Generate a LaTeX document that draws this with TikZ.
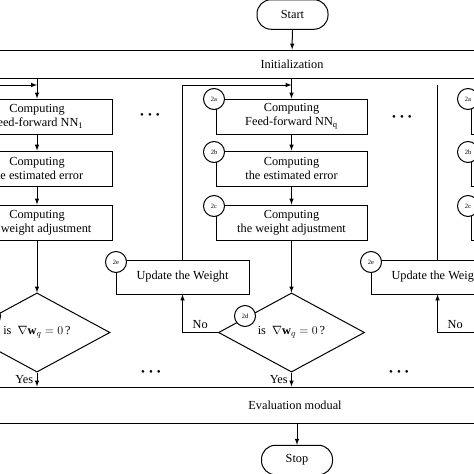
\documentclass[tikz,border=0pt]{standalone}
\usepackage{fontspec}
\setmainfont{Liberation Serif}
\usepackage{amsmath}
\usepackage{tikz}
\usetikzlibrary{shapes.geometric, arrows, positioning, calc}

\begin{document}
\begin{tikzpicture}[x=1pt, y=-1pt, >=latex, line width=1pt,
	every node/.style={font=\fontsize{12.3}{14}\selectfont},
	box/.style={draw, align=center, minimum width=151pt, minimum height=35pt, inner sep=2pt},
	upd/.style={draw, minimum width=133pt, minimum height=34pt},
	decide/.style={draw, diamond, minimum width=146pt, minimum height=56pt, inner sep=0pt},
	tag/.style={draw, circle, fill=white, minimum size=21pt, inner sep=0pt, font=\fontsize{6.5}{7}\selectfont},
	band/.style={draw, minimum width=800pt},
	term/.style={draw, rounded corners=14pt, minimum width=71pt, minimum height=29.5pt},
	dots/.style={font=\fontsize{11}{11}\selectfont}]
		\useasboundingbox (0,0) rectangle (474,474);
		\clip (0,0) rectangle (474,474);

		\draw (292.5,14.5) node[term] (start) {Start}
		(292,64) node[band, minimum height=28pt] (init) {Initialization}
		(295,405) node[band, minimum height=36pt] (eval) {Evaluation modual}
		(297,460) node[term] (stop) {Stop};

		% left column (partly outside)
		\draw (37,116.5) node[box] (l1) {Computing\\Feed-forward NN\textsubscript{1}}
		(37,168.5) node[box] (l2) {Computing\\the estimated error}
		(37,222.5) node[box] (l3) {Computing\\the weight adjustment}
		(37,332.5) node[decide] (ld) {is\ \ $\nabla\mathbf{w}_q = 0$\,?}
		(-10,316) node[tag] (l2d) {2d};
		\coordinate (lfb) at (-73,85);

		% middle column
		\draw (291.5,116.5) node[box] (m1) {Computing\\Feed-forward NN\textsubscript{q}}
		(291.5,168.5) node[box] (m2) {Computing\\the estimated error}
		(291.5,222.5) node[box] (m3) {Computing\\the weight adjustment}
		(291.5,332.5) node[decide] (md) {is\ \ $\nabla\mathbf{w}_q = 0$\,?}
		(182.5,277) node[upd] (mu) {Update the Weight};
		\draw (214,99) node[tag] (m2a) {2a}
		(214,152) node[tag] (m2b) {2b}
		(214,206) node[tag] (m2c) {2c}
		(245,316) node[tag] (m2d) {2d}
		(116,262) node[tag] (m2e) {2e};
		\coordinate (mfb) at (291.5,85);

		% right column (partly outside)
		\draw (546.5,116.5) node[box] (r1) {Computing\\Feed-forward NN\textsubscript{q}}
		(546.5,168.5) node[box] (r2) {Computing\\the estimated error}
		(546.5,222.5) node[box] (r3) {Computing\\the weight adjustment}
		(546.5,332.5) node[decide] (rd) {is\ \ $\nabla\mathbf{w}_q = 0$\,?}
		(437.5,277) node[upd] (ru) {Update the Weight};
		\draw (468,99) node[tag] (r2a) {2a}
		(468,152) node[tag] (r2b) {2b}
		(468,206) node[tag] (r2c) {2c}
		(371,262) node[tag] (r2e) {2e};

		\node[dots] (d1) at (150,116) {\textbullet\hspace{4pt}\textbullet\hspace{4pt}\textbullet};
		\node[dots] (d2) at (402,118) {\textbullet\hspace{4pt}\textbullet\hspace{4pt}\textbullet};
		\node[dots] (d3) at (151,373) {\textbullet\hspace{4pt}\textbullet\hspace{4pt}\textbullet};
		\node[dots] (d4) at (399,373) {\textbullet\hspace{4pt}\textbullet\hspace{4pt}\textbullet};

		\draw[->] (start) -- (init);
		\draw[->] (eval.south -| stop) -- (stop);

		\draw[->] (init.south -| l1) -- (l1);
		\draw[->] (lfb) -- (lfb -| l1);
		\draw[->] (l1) -- (l2);
		\draw[->] (l2) -- (l3);
		\draw[->] (l3) -- (ld);
		\draw[->] (ld) -- node[left] {Yes} (eval.north -| ld);

		\draw[->] (init.south -| m1) -- (m1);
		\draw[->] (mu.north) |- (mfb);
		\draw[->] (m1) -- (m2);
		\draw[->] (m2) -- (m3);
		\draw[->] (m3) -- (md);
		\draw[->] (md) -- node[left] {Yes} (eval.north -| md);
		\draw[->] (md.west) -| node[pos=0.25, above] {No} (mu.south);

		\draw[->] (init.south -| r1) -- (r1);
		\draw (ru.north) -- (ru.north |- mfb);
		\draw[->] (rd.west) -| node[pos=0.25, above] {No} (ru.south);
\end{tikzpicture}
\end{document}
